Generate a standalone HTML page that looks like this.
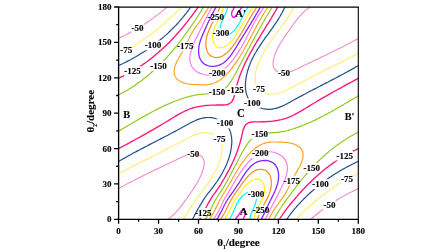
<!DOCTYPE html>
<html><head><meta charset="utf-8"><title>Contour plot</title>
<style>
html,body{margin:0;padding:0;background:#fff;}
body{width:448px;height:252px;overflow:hidden;}
svg{display:block;}
svg text{font-family:"Liberation Serif","Times New Roman",serif;font-weight:bold;fill:#000;stroke:#000;stroke-width:0.12;}
</style></head>
<body>
<svg width="448" height="252" viewBox="0 0 448 252">
<rect width="448" height="252" fill="#fff"/>
<defs><mask id="mk50" maskUnits="userSpaceOnUse" x="0" y="0" width="448" height="252"><rect width="448" height="252" fill="#fff"/><rect x="131.28" y="23.62" width="12.24" height="9.80" fill="#000"/><rect x="277.93" y="68.26" width="12.24" height="9.80" fill="#000"/><rect x="187.03" y="148.74" width="12.24" height="9.80" fill="#000"/><rect x="323.33" y="199.95" width="12.24" height="9.80" fill="#000"/></mask>
<mask id="mk75" maskUnits="userSpaceOnUse" x="0" y="0" width="448" height="252"><rect width="448" height="252" fill="#fff"/><rect x="120.06" y="44.98" width="12.24" height="9.80" fill="#000"/><rect x="252.99" y="84.61" width="12.24" height="9.80" fill="#000"/><rect x="213.32" y="134.09" width="12.24" height="9.80" fill="#000"/><rect x="340.83" y="174.17" width="12.24" height="9.80" fill="#000"/></mask>
<mask id="mk100" maskUnits="userSpaceOnUse" x="0" y="0" width="448" height="252"><rect width="448" height="252" fill="#fff"/><rect x="144.74" y="40.47" width="16.75" height="9.80" fill="#000"/><rect x="243.83" y="98.45" width="16.75" height="9.80" fill="#000"/><rect x="216.62" y="118.55" width="16.75" height="9.80" fill="#000"/><rect x="312.06" y="179.29" width="16.75" height="9.80" fill="#000"/></mask>
<mask id="mk125" maskUnits="userSpaceOnUse" x="0" y="0" width="448" height="252"><rect width="448" height="252" fill="#fff"/><rect x="124.12" y="66.24" width="16.75" height="9.80" fill="#000"/><rect x="227.15" y="85.42" width="16.75" height="9.80" fill="#000"/><rect x="194.86" y="208.11" width="16.75" height="9.80" fill="#000"/><rect x="336.33" y="150.76" width="16.75" height="9.80" fill="#000"/></mask>
<mask id="mk150" maskUnits="userSpaceOnUse" x="0" y="0" width="448" height="252"><rect width="448" height="252" fill="#fff"/><rect x="150.03" y="61.13" width="16.75" height="9.80" fill="#000"/><rect x="208.69" y="87.64" width="16.75" height="9.80" fill="#000"/><rect x="251.44" y="129.45" width="16.75" height="9.80" fill="#000"/><rect x="303.34" y="163.14" width="16.75" height="9.80" fill="#000"/></mask>
<mask id="mk175" maskUnits="userSpaceOnUse" x="0" y="0" width="448" height="252"><rect width="448" height="252" fill="#fff"/><rect x="176.90" y="41.55" width="16.75" height="9.80" fill="#000"/><rect x="283.39" y="175.77" width="16.75" height="9.80" fill="#000"/></mask>
<mask id="mk200" maskUnits="userSpaceOnUse" x="0" y="0" width="448" height="252"><rect width="448" height="252" fill="#fff"/><rect x="208.88" y="68.36" width="16.75" height="9.80" fill="#000"/><rect x="251.83" y="148.53" width="16.75" height="9.80" fill="#000"/></mask>
<mask id="mk250" maskUnits="userSpaceOnUse" x="0" y="0" width="448" height="252"><rect width="448" height="252" fill="#fff"/><rect x="207.27" y="11.86" width="16.75" height="9.80" fill="#000"/><rect x="252.65" y="205.33" width="16.75" height="9.80" fill="#000"/></mask>
<mask id="mk300" maskUnits="userSpaceOnUse" x="0" y="0" width="448" height="252"><rect width="448" height="252" fill="#fff"/><rect x="212.73" y="28.34" width="16.75" height="9.80" fill="#000"/><rect x="247.70" y="189.03" width="16.75" height="9.80" fill="#000"/></mask><filter id="soft" x="-2%" y="-2%" width="104%" height="104%"><feGaussianBlur stdDeviation="0.3"/></filter><clipPath id="cp"><rect x="118.6" y="7.0" width="239.70000000000002" height="212.35"/></clipPath></defs>
<g filter="url(#soft)">
<g clip-path="url(#cp)" fill="none" stroke-linecap="butt" stroke-linejoin="round">
<g stroke="#f285c6" stroke-width="1.05" mask="url(#mk50)"><path d="M118.6,38.3 L120.0,37.6 L121.5,37.0 L122.9,36.3 L124.3,35.6 L125.7,34.9 L127.1,34.2 L128.5,33.5 L129.9,32.7 L131.3,32.0 L132.7,31.2 L134.0,30.5 L135.4,29.7 L136.8,28.9 L138.1,28.1 L139.5,27.3 L140.8,26.5 L142.2,25.6 L143.5,24.8 L144.8,23.9 L146.1,23.0 L147.4,22.2 L148.7,21.3 L150.0,20.4 L151.3,19.5 L152.6,18.6 L153.9,17.6 L155.1,16.7 L156.4,15.7 L157.6,14.8 L158.9,13.8 L160.1,12.8 L161.3,11.8 L162.5,10.8 L163.8,9.8 L164.9,8.8 L166.1,7.8 L167.3,6.7"/><path d="M358.6,188.5 L357.2,189.2 L355.7,189.8 L354.3,190.5 L352.9,191.2 L351.5,191.9 L350.1,192.6 L348.7,193.3 L347.3,194.1 L345.9,194.8 L344.5,195.6 L343.2,196.3 L341.8,197.1 L340.4,197.9 L339.1,198.7 L337.7,199.5 L336.4,200.3 L335.0,201.2 L333.7,202.0 L332.4,202.9 L331.1,203.8 L329.8,204.6 L328.5,205.5 L327.2,206.4 L325.9,207.3 L324.6,208.2 L323.3,209.2 L322.1,210.1 L320.8,211.1 L319.6,212.0 L318.3,213.0 L317.1,214.0 L315.9,215.0 L314.7,216.0 L313.4,217.0 L312.3,218.0 L311.1,219.0 L309.9,220.1"/><path d="M310.3,6.8 L309.0,7.7 L307.7,8.6 L306.5,9.6 L305.3,10.6 L304.2,11.6 L303.1,12.6 L302.0,13.7 L301.0,14.8 L300.0,15.9 L299.0,17.0 L298.0,18.2 L297.1,19.4 L296.1,20.5 L295.2,21.7 L294.3,22.9 L293.4,24.2 L292.5,25.4 L291.7,26.6 L290.8,27.8 L289.9,29.1 L289.1,30.3 L288.2,31.6 L287.3,32.8 L286.5,34.1 L285.6,35.3 L284.7,36.6 L283.9,37.8 L283.1,39.1 L282.2,40.4 L281.4,41.7 L280.6,43.0 L279.8,44.3 L279.1,45.6 L278.3,47.0 L277.6,48.4 L277.0,49.8 L276.3,51.2 L275.7,52.6 L275.1,54.1 L274.6,55.6 L274.1,57.2 L273.7,58.7 L273.3,60.3 L273.1,61.8 L273.0,63.3 L273.0,64.7 L273.2,66.1 L273.6,67.4 L274.2,68.5 L275.0,69.6 L275.9,70.5 L277.0,71.3 L278.2,72.0 L279.5,72.5 L280.8,72.9 L282.2,73.1 L283.7,73.2 L285.1,73.1 L286.6,72.9 L288.1,72.5 L289.5,72.1 L291.0,71.5 L292.5,70.9 L294.0,70.3 L295.4,69.6 L296.9,68.9 L298.3,68.2 L299.8,67.5 L301.2,66.8 L302.6,66.2 L304.0,65.5 L305.5,64.8 L306.9,64.1 L308.3,63.5 L309.6,62.8 L311.0,62.2 L312.4,61.5 L313.8,60.8 L315.1,60.2 L316.5,59.5 L317.9,58.9 L319.2,58.3 L320.6,57.6 L321.9,57.0 L323.3,56.3 L324.6,55.7 L325.9,55.0 L327.3,54.4 L328.6,53.7 L329.9,53.1 L331.3,52.4 L332.6,51.8 L333.9,51.1 L335.3,50.5 L336.6,49.8 L338.0,49.1 L339.3,48.5 L340.6,47.8 L342.0,47.1 L343.3,46.4 L344.7,45.7 L346.0,45.0 L347.4,44.3 L348.7,43.6 L350.1,42.9 L351.5,42.2 L352.8,41.4 L354.2,40.7 L355.6,40.0 L357.0,39.2 L358.4,38.4"/><path d="M166.9,220.0 L168.2,219.1 L169.5,218.2 L170.7,217.2 L171.9,216.2 L173.0,215.2 L174.1,214.2 L175.2,213.1 L176.2,212.0 L177.2,210.9 L178.2,209.8 L179.2,208.6 L180.1,207.4 L181.1,206.3 L182.0,205.1 L182.9,203.9 L183.8,202.6 L184.6,201.4 L185.5,200.2 L186.4,199.0 L187.3,197.7 L188.1,196.5 L189.0,195.2 L189.9,194.0 L190.7,192.7 L191.6,191.5 L192.4,190.2 L193.3,189.0 L194.1,187.7 L195.0,186.4 L195.8,185.1 L196.6,183.8 L197.4,182.5 L198.1,181.2 L198.9,179.8 L199.6,178.4 L200.2,177.0 L200.9,175.6 L201.5,174.2 L202.1,172.7 L202.6,171.2 L203.1,169.6 L203.5,168.1 L203.9,166.5 L204.1,165.0 L204.2,163.5 L204.2,162.1 L204.0,160.7 L203.6,159.4 L203.0,158.3 L202.2,157.2 L201.3,156.3 L200.2,155.5 L199.0,154.8 L197.7,154.3 L196.4,153.9 L195.0,153.7 L193.5,153.6 L192.1,153.7 L190.6,153.9 L189.1,154.3 L187.7,154.7 L186.2,155.3 L184.7,155.9 L183.2,156.5 L181.8,157.2 L180.3,157.9 L178.9,158.6 L177.4,159.3 L176.0,160.0 L174.6,160.6 L173.2,161.3 L171.7,162.0 L170.3,162.7 L168.9,163.3 L167.6,164.0 L166.2,164.6 L164.8,165.3 L163.4,166.0 L162.1,166.6 L160.7,167.3 L159.3,167.9 L158.0,168.5 L156.6,169.2 L155.3,169.8 L153.9,170.5 L152.6,171.1 L151.3,171.8 L149.9,172.4 L148.6,173.1 L147.3,173.7 L145.9,174.4 L144.6,175.0 L143.3,175.7 L141.9,176.3 L140.6,177.0 L139.2,177.7 L137.9,178.3 L136.6,179.0 L135.2,179.7 L133.9,180.4 L132.5,181.1 L131.2,181.8 L129.8,182.5 L128.5,183.2 L127.1,183.9 L125.7,184.6 L124.4,185.4 L123.0,186.1 L121.6,186.8 L120.2,187.6 L118.8,188.4"/></g>
<g stroke="#ffec62" stroke-width="1.05" mask="url(#mk75)"><path d="M118.7,53.4 L120.1,52.8 L121.5,52.2 L122.9,51.5 L124.3,50.8 L125.7,50.1 L127.1,49.4 L128.4,48.7 L129.8,48.0 L131.1,47.2 L132.5,46.5 L133.8,45.7 L135.2,44.9 L136.5,44.1 L137.8,43.3 L139.1,42.5 L140.4,41.6 L141.7,40.8 L143.0,39.9 L144.3,39.1 L145.6,38.2 L146.8,37.3 L148.1,36.4 L149.3,35.5 L150.6,34.5 L151.8,33.6 L153.1,32.7 L154.3,31.7 L155.5,30.7 L156.7,29.8 L157.9,28.8 L159.1,27.8 L160.3,26.8 L161.5,25.8 L162.7,24.8 L163.9,23.8 L165.0,22.8 L166.2,21.7 L167.4,20.7 L168.5,19.7 L169.6,18.6 L170.8,17.5 L171.9,16.5 L173.0,15.4 L174.2,14.4 L175.3,13.3 L176.4,12.2 L177.5,11.1 L178.6,10.0 L179.7,9.0 L180.8,7.9 L181.8,6.8"/><path d="M358.5,173.4 L357.1,174.0 L355.7,174.6 L354.3,175.3 L352.9,176.0 L351.5,176.7 L350.1,177.4 L348.8,178.1 L347.4,178.8 L346.1,179.6 L344.7,180.3 L343.4,181.1 L342.0,181.9 L340.7,182.7 L339.4,183.5 L338.1,184.3 L336.8,185.2 L335.5,186.0 L334.2,186.9 L332.9,187.7 L331.6,188.6 L330.4,189.5 L329.1,190.4 L327.9,191.3 L326.6,192.3 L325.4,193.2 L324.1,194.1 L322.9,195.1 L321.7,196.1 L320.5,197.0 L319.3,198.0 L318.1,199.0 L316.9,200.0 L315.7,201.0 L314.5,202.0 L313.3,203.0 L312.2,204.0 L311.0,205.1 L309.8,206.1 L308.7,207.1 L307.6,208.2 L306.4,209.3 L305.3,210.3 L304.2,211.4 L303.0,212.4 L301.9,213.5 L300.8,214.6 L299.7,215.7 L298.6,216.8 L297.5,217.8 L296.4,218.9 L295.3,220.0"/><path d="M294.0,6.6 L293.3,8.1 L292.5,9.5 L291.7,10.9 L291.0,12.3 L290.2,13.6 L289.3,15.0 L288.5,16.3 L287.7,17.6 L286.9,18.8 L286.0,20.1 L285.2,21.3 L284.3,22.6 L283.4,23.8 L282.6,25.0 L281.7,26.2 L280.8,27.4 L280.0,28.6 L279.1,29.8 L278.2,31.0 L277.3,32.2 L276.5,33.3 L275.6,34.5 L274.7,35.7 L273.9,36.9 L273.0,38.1 L272.1,39.3 L271.3,40.5 L270.4,41.7 L269.6,42.9 L268.8,44.2 L267.9,45.4 L267.1,46.7 L266.3,48.0 L265.5,49.3 L264.7,50.6 L264.0,51.9 L263.2,53.3 L262.5,54.6 L261.7,56.0 L261.0,57.5 L260.3,58.9 L259.6,60.4 L259.0,61.9 L258.3,63.4 L257.7,64.9 L257.2,66.4 L256.7,68.0 L256.3,69.5 L255.9,71.0 L255.6,72.6 L255.3,74.1 L255.2,75.6 L255.1,77.1 L255.1,78.6 L255.2,80.0 L255.3,81.5 L255.6,82.9 L256.0,84.2 L256.5,85.5 L257.1,86.8 L257.9,88.0 L258.7,89.1 L259.7,90.1 L260.7,90.9 L261.9,91.7 L263.1,92.4 L264.5,92.9 L265.9,93.4 L267.3,93.7 L268.8,94.0 L270.3,94.1 L271.8,94.2 L273.3,94.1 L274.9,94.0 L276.4,93.7 L277.8,93.4 L279.3,93.0 L280.8,92.5 L282.2,92.0 L283.6,91.4 L285.1,90.8 L286.5,90.1 L287.9,89.4 L289.3,88.7 L290.6,88.0 L292.0,87.2 L293.4,86.5 L294.8,85.8 L296.1,85.0 L297.5,84.3 L298.9,83.6 L300.2,82.9 L301.6,82.2 L303.0,81.4 L304.3,80.7 L305.7,80.0 L307.0,79.4 L308.4,78.7 L309.7,78.0 L311.1,77.3 L312.4,76.6 L313.7,75.9 L315.1,75.2 L316.4,74.6 L317.8,73.9 L319.1,73.2 L320.4,72.5 L321.8,71.9 L323.1,71.2 L324.5,70.5 L325.8,69.8 L327.1,69.2 L328.5,68.5 L329.8,67.8 L331.2,67.2 L332.5,66.5 L333.9,65.8 L335.2,65.2 L336.5,64.5 L337.9,63.8 L339.2,63.1 L340.6,62.4 L341.9,61.8 L343.3,61.1 L344.7,60.4 L346.0,59.7 L347.4,59.0 L348.7,58.3 L350.1,57.6 L351.5,56.9 L352.8,56.2 L354.2,55.5 L355.6,54.8 L357.0,54.1 L358.4,53.4"/><path d="M183.2,220.2 L183.9,218.7 L184.7,217.3 L185.5,215.9 L186.2,214.5 L187.0,213.2 L187.9,211.8 L188.7,210.5 L189.5,209.2 L190.3,208.0 L191.2,206.7 L192.0,205.5 L192.9,204.2 L193.7,203.0 L194.6,201.8 L195.4,200.6 L196.3,199.4 L197.1,198.2 L198.0,197.0 L198.8,195.8 L199.7,194.6 L200.5,193.5 L201.4,192.3 L202.3,191.1 L203.1,189.9 L204.0,188.7 L204.9,187.5 L205.8,186.3 L206.7,185.1 L207.5,183.9 L208.4,182.6 L209.2,181.4 L210.1,180.1 L210.9,178.8 L211.7,177.5 L212.5,176.2 L213.2,174.9 L214.0,173.5 L214.7,172.2 L215.5,170.8 L216.2,169.3 L216.9,167.9 L217.6,166.4 L218.2,164.9 L218.9,163.4 L219.5,161.9 L220.0,160.4 L220.5,158.8 L220.9,157.3 L221.3,155.8 L221.6,154.2 L221.9,152.7 L222.0,151.2 L222.1,149.7 L222.1,148.2 L222.0,146.8 L221.9,145.3 L221.6,143.9 L221.2,142.6 L220.7,141.3 L220.1,140.0 L219.3,138.8 L218.5,137.7 L217.5,136.7 L216.5,135.9 L215.3,135.1 L214.1,134.4 L212.7,133.9 L211.3,133.4 L209.9,133.1 L208.4,132.8 L206.9,132.7 L205.4,132.6 L203.9,132.7 L202.3,132.8 L200.8,133.1 L199.4,133.4 L197.9,133.8 L196.4,134.3 L195.0,134.8 L193.6,135.4 L192.1,136.0 L190.7,136.7 L189.3,137.4 L187.9,138.1 L186.6,138.8 L185.2,139.6 L183.8,140.3 L182.4,141.0 L181.1,141.8 L179.7,142.5 L178.3,143.2 L177.0,143.9 L175.6,144.6 L174.2,145.4 L172.9,146.1 L171.5,146.8 L170.2,147.4 L168.8,148.1 L167.5,148.8 L166.1,149.5 L164.8,150.2 L163.5,150.9 L162.1,151.6 L160.8,152.2 L159.4,152.9 L158.1,153.6 L156.8,154.3 L155.4,154.9 L154.1,155.6 L152.7,156.3 L151.4,157.0 L150.1,157.6 L148.7,158.3 L147.4,159.0 L146.0,159.6 L144.7,160.3 L143.3,161.0 L142.0,161.6 L140.7,162.3 L139.3,163.0 L138.0,163.7 L136.6,164.4 L135.3,165.0 L133.9,165.7 L132.5,166.4 L131.2,167.1 L129.8,167.8 L128.5,168.5 L127.1,169.2 L125.7,169.9 L124.4,170.6 L123.0,171.3 L121.6,172.0 L120.2,172.7 L118.8,173.4"/></g>
<g stroke="#1f4e8c" stroke-width="1.2" mask="url(#mk100)"><path d="M118.5,65.6 L119.9,65.0 L121.3,64.3 L122.7,63.7 L124.0,63.0 L125.4,62.3 L126.8,61.6 L128.1,60.9 L129.5,60.2 L130.8,59.5 L132.2,58.7 L133.5,58.0 L134.9,57.2 L136.2,56.5 L137.5,55.7 L138.8,54.9 L140.1,54.1 L141.4,53.3 L142.7,52.5 L144.0,51.7 L145.3,50.9 L146.5,50.0 L147.8,49.2 L149.1,48.3 L150.3,47.4 L151.5,46.5 L152.8,45.6 L154.0,44.7 L155.2,43.8 L156.4,42.9 L157.6,41.9 L158.8,41.0 L160.0,40.0 L161.2,39.1 L162.3,38.1 L163.5,37.1 L164.6,36.1 L165.8,35.1 L166.9,34.1 L168.0,33.1 L169.1,32.0 L170.2,31.0 L171.3,29.9 L172.4,28.8 L173.5,27.8 L174.5,26.7 L175.6,25.6 L176.6,24.5 L177.7,23.3 L178.7,22.2 L179.7,21.1 L180.7,19.9 L181.7,18.7 L182.7,17.6 L183.7,16.4 L184.6,15.2 L185.6,14.0 L186.5,12.8 L187.4,11.5 L188.4,10.3 L189.3,9.0 L190.2,7.8 L191.1,6.5"/><path d="M358.7,161.2 L357.3,161.8 L355.9,162.5 L354.5,163.1 L353.2,163.8 L351.8,164.5 L350.4,165.2 L349.1,165.9 L347.7,166.6 L346.4,167.3 L345.0,168.1 L343.7,168.8 L342.3,169.6 L341.0,170.3 L339.7,171.1 L338.4,171.9 L337.1,172.7 L335.8,173.5 L334.5,174.3 L333.2,175.1 L331.9,175.9 L330.7,176.8 L329.4,177.6 L328.1,178.5 L326.9,179.4 L325.7,180.3 L324.4,181.2 L323.2,182.1 L322.0,183.0 L320.8,183.9 L319.6,184.9 L318.4,185.8 L317.2,186.8 L316.0,187.7 L314.9,188.7 L313.7,189.7 L312.6,190.7 L311.4,191.7 L310.3,192.7 L309.2,193.7 L308.1,194.8 L307.0,195.8 L305.9,196.9 L304.8,198.0 L303.7,199.0 L302.7,200.1 L301.6,201.2 L300.5,202.3 L299.5,203.5 L298.5,204.6 L297.4,205.7 L296.4,206.9 L295.4,208.1 L294.4,209.2 L293.4,210.4 L292.4,211.6 L291.4,212.8 L290.5,214.0 L289.6,215.3 L288.7,216.5 L287.8,217.8 L286.9,219.0 L286.1,220.3"/><path d="M285.0,6.6 L284.4,8.0 L283.7,9.4 L283.0,10.8 L282.3,12.2 L281.6,13.5 L280.8,14.9 L280.1,16.2 L279.3,17.5 L278.5,18.8 L277.7,20.1 L276.9,21.4 L276.1,22.6 L275.2,23.9 L274.4,25.2 L273.5,26.4 L272.7,27.6 L271.8,28.9 L270.9,30.1 L270.0,31.3 L269.1,32.6 L268.3,33.8 L267.4,35.0 L266.5,36.2 L265.6,37.4 L264.7,38.7 L263.9,39.9 L263.0,41.1 L262.1,42.4 L261.3,43.6 L260.5,44.8 L259.6,46.1 L258.8,47.4 L258.0,48.6 L257.2,49.9 L256.4,51.2 L255.7,52.5 L254.9,53.8 L254.2,55.1 L253.5,56.5 L252.8,57.8 L252.1,59.2 L251.5,60.6 L250.8,62.0 L250.2,63.4 L249.7,64.9 L249.1,66.3 L248.6,67.8 L248.1,69.3 L247.7,70.8 L247.2,72.4 L246.9,73.9 L246.5,75.5 L246.2,77.0 L246.0,78.6 L245.8,80.1 L245.6,81.7 L245.5,83.2 L245.4,84.8 L245.4,86.3 L245.5,87.8 L245.6,89.3 L245.8,90.7 L246.1,92.1 L246.4,93.5 L246.8,94.9 L247.3,96.2 L247.8,97.4 L248.4,98.7 L249.2,99.8 L250.0,100.9 L250.8,102.0 L251.8,103.0 L252.9,103.9 L254.0,104.8 L255.3,105.6 L256.6,106.3 L258.0,107.0 L259.4,107.6 L260.9,108.0 L262.4,108.5 L263.9,108.8 L265.5,109.1 L267.0,109.2 L268.6,109.3 L270.1,109.3 L271.6,109.1 L273.2,108.9 L274.6,108.7 L276.1,108.3 L277.6,107.9 L279.0,107.4 L280.4,106.9 L281.8,106.3 L283.2,105.6 L284.6,105.0 L286.0,104.3 L287.4,103.6 L288.8,102.8 L290.1,102.1 L291.5,101.3 L292.8,100.5 L294.2,99.8 L295.6,99.0 L296.9,98.3 L298.3,97.6 L299.6,96.8 L301.0,96.1 L302.3,95.4 L303.6,94.7 L305.0,94.0 L306.3,93.3 L307.7,92.5 L309.0,91.8 L310.3,91.1 L311.7,90.5 L313.0,89.8 L314.3,89.1 L315.7,88.4 L317.0,87.7 L318.3,87.0 L319.7,86.3 L321.0,85.6 L322.3,84.9 L323.7,84.3 L325.0,83.6 L326.3,82.9 L327.7,82.2 L329.0,81.5 L330.3,80.8 L331.7,80.1 L333.0,79.4 L334.3,78.7 L335.7,78.0 L337.0,77.3 L338.3,76.6 L339.7,75.9 L341.0,75.2 L342.3,74.5 L343.7,73.8 L345.0,73.1 L346.3,72.3 L347.7,71.6 L349.0,70.9 L350.4,70.1 L351.7,69.4 L353.0,68.6 L354.4,67.9 L355.7,67.1 L357.1,66.3 L358.4,65.5"/><path d="M192.2,220.2 L192.8,218.8 L193.5,217.4 L194.2,216.0 L194.9,214.6 L195.6,213.3 L196.3,211.9 L197.1,210.6 L197.8,209.3 L198.6,208.0 L199.4,206.7 L200.1,205.4 L200.9,204.2 L201.6,202.9 L202.4,201.6 L203.1,200.4 L203.9,199.2 L204.7,197.9 L205.6,196.7 L206.4,195.5 L207.4,194.2 L208.3,193.0 L209.3,191.8 L210.3,190.6 L211.2,189.4 L212.2,188.1 L213.1,186.9 L214.0,185.7 L214.9,184.4 L215.8,183.2 L216.7,182.0 L217.5,180.7 L218.4,179.4 L219.2,178.2 L220.0,176.9 L220.8,175.6 L221.5,174.3 L222.3,173.0 L223.0,171.7 L223.7,170.3 L224.4,169.0 L225.1,167.6 L225.7,166.2 L226.4,164.8 L227.0,163.4 L227.5,161.9 L228.1,160.5 L228.6,159.0 L229.1,157.5 L229.5,156.0 L230.0,154.4 L230.3,152.9 L230.7,151.3 L231.0,149.8 L231.2,148.2 L231.4,146.7 L231.6,145.1 L231.7,143.6 L231.8,142.0 L231.8,140.5 L231.7,139.0 L231.6,137.5 L231.4,136.1 L231.1,134.7 L230.8,133.3 L230.4,131.9 L229.9,130.6 L229.4,129.4 L228.8,128.1 L228.0,127.0 L227.2,125.9 L226.4,124.8 L225.4,123.8 L224.3,122.9 L223.2,122.0 L221.9,121.2 L220.6,120.5 L219.2,119.8 L217.8,119.2 L216.3,118.8 L214.8,118.3 L213.3,118.0 L211.7,117.7 L210.2,117.6 L208.6,117.5 L207.1,117.5 L205.6,117.7 L204.0,117.9 L202.6,118.1 L201.1,118.5 L199.6,118.9 L198.2,119.4 L196.8,119.9 L195.4,120.5 L194.0,121.2 L192.6,121.8 L191.2,122.5 L189.8,123.2 L188.4,124.0 L187.1,124.7 L185.7,125.5 L184.4,126.3 L183.0,127.0 L181.6,127.8 L180.3,128.5 L178.9,129.2 L177.6,130.0 L176.2,130.7 L174.9,131.4 L173.6,132.1 L172.2,132.8 L170.9,133.5 L169.5,134.3 L168.2,135.0 L166.9,135.7 L165.5,136.3 L164.2,137.0 L162.9,137.7 L161.5,138.4 L160.2,139.1 L158.9,139.8 L157.5,140.5 L156.2,141.2 L154.9,141.9 L153.5,142.5 L152.2,143.2 L150.9,143.9 L149.5,144.6 L148.2,145.3 L146.9,146.0 L145.5,146.7 L144.2,147.4 L142.9,148.1 L141.5,148.8 L140.2,149.5 L138.9,150.2 L137.5,150.9 L136.2,151.6 L134.9,152.3 L133.5,153.0 L132.2,153.7 L130.9,154.5 L129.5,155.2 L128.2,155.9 L126.8,156.7 L125.5,157.4 L124.2,158.2 L122.8,158.9 L121.5,159.7 L120.1,160.5 L118.8,161.3"/></g>
<g stroke="#ff1478" stroke-width="1.35" mask="url(#mk125)"><path d="M118.5,78.2 L119.9,77.6 L121.3,76.9 L122.7,76.3 L124.1,75.6 L125.5,74.9 L126.9,74.2 L128.2,73.5 L129.6,72.8 L130.9,72.0 L132.2,71.3 L133.6,70.5 L134.9,69.7 L136.2,68.9 L137.5,68.1 L138.8,67.3 L140.0,66.5 L141.3,65.6 L142.6,64.8 L143.8,63.9 L145.1,63.0 L146.3,62.2 L147.6,61.3 L148.8,60.3 L150.0,59.4 L151.2,58.5 L152.4,57.5 L153.6,56.6 L154.8,55.6 L155.9,54.6 L157.1,53.6 L158.3,52.6 L159.4,51.6 L160.5,50.6 L161.7,49.6 L162.8,48.6 L163.9,47.5 L165.0,46.5 L166.1,45.4 L167.2,44.3 L168.3,43.2 L169.4,42.2 L170.5,41.1 L171.5,40.0 L172.6,38.8 L173.6,37.7 L174.7,36.6 L175.7,35.5 L176.7,34.3 L177.7,33.2 L178.8,32.0 L179.8,30.9 L180.8,29.7 L181.8,28.5 L182.7,27.3 L183.7,26.2 L184.7,25.0 L185.6,23.8 L186.6,22.6 L187.5,21.4 L188.5,20.1 L189.4,18.9 L190.3,17.7 L191.3,16.5 L192.2,15.3 L193.1,14.0 L194.0,12.8 L194.9,11.5 L195.8,10.3 L196.7,9.1 L197.5,7.8 L198.4,6.5"/><path d="M358.7,148.6 L357.3,149.2 L355.9,149.9 L354.5,150.5 L353.1,151.2 L351.7,151.9 L350.3,152.6 L349.0,153.3 L347.6,154.0 L346.3,154.8 L345.0,155.5 L343.6,156.3 L342.3,157.1 L341.0,157.9 L339.7,158.7 L338.4,159.5 L337.2,160.3 L335.9,161.2 L334.6,162.0 L333.4,162.9 L332.1,163.8 L330.9,164.6 L329.6,165.5 L328.4,166.5 L327.2,167.4 L326.0,168.3 L324.8,169.3 L323.6,170.2 L322.4,171.2 L321.3,172.2 L320.1,173.2 L318.9,174.2 L317.8,175.2 L316.7,176.2 L315.5,177.2 L314.4,178.2 L313.3,179.3 L312.2,180.3 L311.1,181.4 L310.0,182.5 L308.9,183.6 L307.8,184.6 L306.7,185.7 L305.7,186.8 L304.6,188.0 L303.6,189.1 L302.5,190.2 L301.5,191.3 L300.5,192.5 L299.4,193.6 L298.4,194.8 L297.4,195.9 L296.4,197.1 L295.4,198.3 L294.4,199.5 L293.4,200.6 L292.3,201.8 L291.3,203.0 L290.3,204.2 L289.3,205.4 L288.3,206.7 L287.4,207.9 L286.4,209.1 L285.5,210.3 L284.6,211.5 L283.8,212.8 L282.9,214.0 L282.1,215.3 L281.2,216.5 L280.4,217.7 L279.6,219.0 L278.7,220.3"/><path d="M118.6,148.6 L119.9,147.9 L121.3,147.2 L122.6,146.5 L124.0,145.7 L125.3,145.0 L126.7,144.3 L128.0,143.6 L129.3,142.9 L130.7,142.1 L132.0,141.4 L133.3,140.7 L134.6,140.0 L135.9,139.2 L137.3,138.5 L138.6,137.8 L139.9,137.1 L141.2,136.3 L142.5,135.6 L143.8,134.9 L145.1,134.1 L146.4,133.4 L147.7,132.6 L149.0,131.9 L150.3,131.2 L151.7,130.4 L153.0,129.7 L154.3,128.9 L155.6,128.2 L156.9,127.4 L158.2,126.6 L159.5,125.9 L160.8,125.1 L162.1,124.3 L163.4,123.5 L164.7,122.8 L166.0,122.0 L167.3,121.2 L168.6,120.4 L169.9,119.6 L171.2,118.8 L172.5,118.0 L173.8,117.2 L175.1,116.4 L176.4,115.6 L177.8,114.9 L179.1,114.1 L180.4,113.4 L181.8,112.7 L183.1,112.0 L184.5,111.3 L185.8,110.7 L187.2,110.1 L188.6,109.5 L190.0,108.9 L191.4,108.4 L192.8,108.0 L194.2,107.6 L195.7,107.2 L197.1,106.9 L198.6,106.6 L200.0,106.3 L201.5,106.1 L203.0,105.9 L204.5,105.7 L206.0,105.5 L207.5,105.4 L209.0,105.3 L210.5,105.2 L212.0,105.1 L213.6,105.1 L215.1,105.1 L216.6,105.0 L218.2,105.0 L219.7,105.0 L221.3,105.0 L222.8,105.0 L224.4,104.9 L225.9,104.8 L227.3,104.5 L228.7,104.0 L229.9,103.3 L231.0,102.5 L232.0,101.4 L232.7,100.2 L233.3,98.9 L233.8,97.5 L234.3,96.0 L234.6,94.4 L235.0,92.9 L235.3,91.4 L235.6,89.8 L236.0,88.3 L236.4,86.8 L236.8,85.3 L237.2,83.9 L237.6,82.4 L238.1,81.0 L238.5,79.6 L239.0,78.1 L239.5,76.7 L240.0,75.3 L240.5,73.9 L241.1,72.5 L241.6,71.1 L242.2,69.8 L242.8,68.4 L243.4,67.0 L244.0,65.6 L244.6,64.3 L245.2,62.9 L245.9,61.6 L246.6,60.2 L247.2,58.9 L247.9,57.5 L248.6,56.2 L249.3,54.9 L250.0,53.6 L250.7,52.2 L251.5,50.9 L252.2,49.6 L253.0,48.3 L253.7,47.0 L254.5,45.7 L255.2,44.4 L256.0,43.0 L256.8,41.7 L257.6,40.4 L258.4,39.1 L259.2,37.9 L259.9,36.6 L260.7,35.3 L261.5,34.0 L262.3,32.7 L263.1,31.4 L263.9,30.1 L264.7,28.8 L265.5,27.5 L266.3,26.2 L267.1,24.9 L267.9,23.7 L268.7,22.4 L269.5,21.1 L270.3,19.8 L271.1,18.5 L271.8,17.2 L272.6,15.9 L273.4,14.6 L274.1,13.3 L274.9,12.0 L275.6,10.7 L276.4,9.4 L277.1,8.1 L277.8,6.8"/><path d="M358.6,78.2 L357.3,78.9 L355.9,79.6 L354.6,80.3 L353.2,81.1 L351.9,81.8 L350.5,82.5 L349.2,83.2 L347.9,83.9 L346.5,84.7 L345.2,85.4 L343.9,86.1 L342.6,86.8 L341.3,87.6 L339.9,88.3 L338.6,89.0 L337.3,89.7 L336.0,90.5 L334.7,91.2 L333.4,91.9 L332.1,92.7 L330.8,93.4 L329.5,94.2 L328.2,94.9 L326.9,95.6 L325.5,96.4 L324.2,97.1 L322.9,97.9 L321.6,98.6 L320.3,99.4 L319.0,100.2 L317.7,100.9 L316.4,101.7 L315.1,102.5 L313.8,103.3 L312.5,104.0 L311.2,104.8 L309.9,105.6 L308.6,106.4 L307.3,107.2 L306.0,108.0 L304.7,108.8 L303.4,109.6 L302.1,110.4 L300.8,111.2 L299.4,111.9 L298.1,112.7 L296.8,113.4 L295.4,114.1 L294.1,114.8 L292.7,115.5 L291.4,116.1 L290.0,116.7 L288.6,117.3 L287.2,117.9 L285.8,118.4 L284.4,118.8 L283.0,119.2 L281.5,119.6 L280.1,119.9 L278.6,120.2 L277.2,120.5 L275.7,120.7 L274.2,120.9 L272.7,121.1 L271.2,121.3 L269.7,121.4 L268.2,121.5 L266.7,121.6 L265.2,121.7 L263.6,121.7 L262.1,121.7 L260.6,121.8 L259.0,121.8 L257.5,121.8 L255.9,121.8 L254.4,121.8 L252.8,121.9 L251.3,122.0 L249.9,122.3 L248.5,122.8 L247.3,123.5 L246.2,124.3 L245.2,125.4 L244.5,126.6 L243.9,127.9 L243.4,129.3 L242.9,130.8 L242.6,132.4 L242.2,133.9 L241.9,135.4 L241.6,137.0 L241.2,138.5 L240.8,140.0 L240.4,141.5 L240.0,142.9 L239.6,144.4 L239.1,145.8 L238.7,147.2 L238.2,148.7 L237.7,150.1 L237.2,151.5 L236.7,152.9 L236.1,154.3 L235.6,155.7 L235.0,157.0 L234.4,158.4 L233.8,159.8 L233.2,161.2 L232.6,162.5 L232.0,163.9 L231.3,165.2 L230.6,166.6 L230.0,167.9 L229.3,169.3 L228.6,170.6 L227.9,171.9 L227.2,173.2 L226.4,174.6 L225.7,175.9 L225.0,177.2 L224.2,178.5 L223.5,179.8 L222.7,181.1 L221.9,182.4 L221.1,183.8 L220.3,185.1 L219.4,186.4 L218.6,187.7 L217.7,188.9 L216.8,190.2 L215.9,191.5 L215.0,192.8 L214.0,194.1 L213.1,195.4 L212.2,196.7 L211.4,198.0 L210.6,199.3 L209.8,200.6 L209.1,201.9 L208.4,203.1 L207.7,204.4 L207.0,205.7 L206.4,207.0 L205.7,208.3 L205.1,209.6 L204.4,210.9 L203.7,212.2 L203.0,213.5 L202.3,214.8 L201.5,216.1 L200.8,217.4 L200.1,218.7 L199.4,220.0"/></g>
<g stroke="#90cb1e" stroke-width="1.2" mask="url(#mk150)"><path d="M118.3,95.0 L119.7,94.3 L121.0,93.6 L122.4,92.8 L123.8,92.1 L125.1,91.3 L126.5,90.6 L127.8,89.8 L129.1,89.0 L130.4,88.2 L131.7,87.4 L133.0,86.6 L134.3,85.7 L135.5,84.9 L136.8,84.0 L138.0,83.1 L139.3,82.2 L140.5,81.4 L141.7,80.4 L142.9,79.5 L144.1,78.6 L145.3,77.7 L146.5,76.7 L147.7,75.7 L148.8,74.8 L150.0,73.8 L151.1,72.8 L152.2,71.8 L153.4,70.8 L154.5,69.8 L155.6,68.7 L156.7,67.7 L157.8,66.6 L158.9,65.6 L159.9,64.5 L161.0,63.4 L162.1,62.4 L163.1,61.3 L164.2,60.2 L165.2,59.1 L166.2,58.0 L167.2,56.8 L168.2,55.7 L169.3,54.6 L170.3,53.4 L171.2,52.3 L172.2,51.1 L173.2,50.0 L174.2,48.8 L175.1,47.6 L176.1,46.5 L177.1,45.3 L178.0,44.1 L178.9,42.9 L179.9,41.7 L180.8,40.5 L181.7,39.3 L182.6,38.0 L183.5,36.8 L184.4,35.6 L185.3,34.4 L186.2,33.1 L187.1,31.9 L188.0,30.7 L188.9,29.4 L189.8,28.2 L190.6,26.9 L191.5,25.7 L192.3,24.4 L193.2,23.1 L194.0,21.9 L194.9,20.6 L195.7,19.3 L196.6,18.1 L197.4,16.8 L198.2,15.5 L199.0,14.2 L199.9,12.9 L200.7,11.7 L201.5,10.4 L202.3,9.1 L203.1,7.8 L203.9,6.5"/><path d="M358.9,131.8 L357.5,132.5 L356.2,133.2 L354.8,134.0 L353.4,134.7 L352.1,135.5 L350.7,136.2 L349.4,137.0 L348.1,137.8 L346.8,138.6 L345.5,139.4 L344.2,140.2 L342.9,141.1 L341.7,141.9 L340.4,142.8 L339.2,143.7 L337.9,144.6 L336.7,145.4 L335.5,146.4 L334.3,147.3 L333.1,148.2 L331.9,149.1 L330.7,150.1 L329.5,151.1 L328.4,152.0 L327.2,153.0 L326.1,154.0 L325.0,155.0 L323.8,156.0 L322.7,157.0 L321.6,158.1 L320.5,159.1 L319.4,160.2 L318.3,161.2 L317.3,162.3 L316.2,163.4 L315.1,164.4 L314.1,165.5 L313.0,166.6 L312.0,167.7 L311.0,168.8 L310.0,170.0 L309.0,171.1 L307.9,172.2 L306.9,173.4 L306.0,174.5 L305.0,175.7 L304.0,176.8 L303.0,178.0 L302.1,179.2 L301.1,180.3 L300.1,181.5 L299.2,182.7 L298.3,183.9 L297.3,185.1 L296.4,186.3 L295.5,187.5 L294.6,188.8 L293.6,190.0 L292.7,191.2 L291.8,192.4 L290.9,193.7 L290.0,194.9 L289.1,196.1 L288.2,197.4 L287.2,198.6 L286.3,199.9 L285.4,201.1 L284.5,202.4 L283.6,203.7 L282.7,204.9 L281.8,206.2 L281.0,207.5 L280.2,208.7 L279.4,210.0 L278.6,211.3 L277.8,212.6 L277.0,213.9 L276.3,215.1 L275.5,216.4 L274.8,217.7 L274.0,219.0 L273.2,220.3"/><path d="M118.6,131.1 L119.9,130.4 L121.2,129.6 L122.5,128.8 L123.8,128.1 L125.1,127.3 L126.4,126.5 L127.7,125.8 L129.0,125.0 L130.3,124.2 L131.6,123.5 L132.9,122.7 L134.2,121.9 L135.5,121.2 L136.8,120.4 L138.1,119.6 L139.5,118.9 L140.8,118.1 L142.1,117.4 L143.4,116.6 L144.8,115.9 L146.1,115.1 L147.4,114.4 L148.8,113.7 L150.1,112.9 L151.4,112.2 L152.8,111.5 L154.1,110.8 L155.5,110.1 L156.8,109.4 L158.2,108.7 L159.6,108.1 L160.9,107.4 L162.3,106.7 L163.7,106.1 L165.1,105.4 L166.4,104.8 L167.8,104.2 L169.2,103.6 L170.6,103.0 L172.0,102.4 L173.4,101.8 L174.8,101.3 L176.2,100.7 L177.6,100.2 L179.0,99.7 L180.4,99.2 L181.9,98.7 L183.3,98.2 L184.7,97.8 L186.2,97.3 L187.6,96.9 L189.1,96.5 L190.5,96.2 L192.0,95.8 L193.5,95.5 L195.0,95.2 L196.5,95.0 L198.0,94.7 L199.5,94.5 L201.1,94.4 L202.6,94.2 L204.2,94.1 L205.7,94.0 L207.3,93.9 L208.8,93.8 L210.4,93.7 L211.9,93.5 L213.4,93.3 L214.9,93.0 L216.3,92.7 L217.7,92.4 L219.1,91.9 L220.4,91.4 L221.7,90.7 L222.9,90.0 L224.0,89.1 L225.2,88.2 L226.2,87.2 L227.3,86.1 L228.3,84.9 L229.2,83.7 L230.1,82.5 L231.0,81.2 L231.8,79.9 L232.7,78.5 L233.5,77.2 L234.2,75.8 L235.0,74.5 L235.7,73.2 L236.4,71.8 L237.1,70.5 L237.8,69.1 L238.5,67.8 L239.2,66.4 L239.9,65.1 L240.6,63.8 L241.3,62.4 L242.0,61.1 L242.7,59.7 L243.4,58.4 L244.1,57.1 L244.8,55.7 L245.5,54.4 L246.2,53.1 L246.9,51.7 L247.6,50.4 L248.3,49.0 L249.1,47.7 L249.8,46.4 L250.5,45.0 L251.2,43.7 L251.9,42.4 L252.7,41.1 L253.4,39.7 L254.1,38.4 L254.8,37.1 L255.6,35.7 L256.3,34.4 L257.1,33.1 L257.8,31.8 L258.5,30.5 L259.3,29.1 L260.0,27.8 L260.8,26.5 L261.5,25.2 L262.3,23.9 L263.0,22.5 L263.8,21.2 L264.5,19.9 L265.3,18.6 L266.1,17.3 L266.8,16.0 L267.6,14.7 L268.4,13.4 L269.2,12.0 L269.9,10.7 L270.7,9.4 L271.5,8.1 L272.3,6.8"/><path d="M358.6,95.7 L357.3,96.4 L356.0,97.2 L354.7,98.0 L353.4,98.7 L352.1,99.5 L350.8,100.3 L349.5,101.0 L348.2,101.8 L346.9,102.6 L345.6,103.3 L344.3,104.1 L343.0,104.9 L341.7,105.6 L340.4,106.4 L339.1,107.2 L337.7,107.9 L336.4,108.7 L335.1,109.4 L333.8,110.2 L332.4,110.9 L331.1,111.7 L329.8,112.4 L328.4,113.1 L327.1,113.9 L325.8,114.6 L324.4,115.3 L323.1,116.0 L321.7,116.7 L320.4,117.4 L319.0,118.1 L317.6,118.7 L316.3,119.4 L314.9,120.1 L313.5,120.7 L312.1,121.4 L310.8,122.0 L309.4,122.6 L308.0,123.2 L306.6,123.8 L305.2,124.4 L303.8,125.0 L302.4,125.5 L301.0,126.1 L299.6,126.6 L298.2,127.1 L296.8,127.6 L295.3,128.1 L293.9,128.6 L292.5,129.0 L291.0,129.5 L289.6,129.9 L288.1,130.3 L286.7,130.6 L285.2,131.0 L283.7,131.3 L282.2,131.6 L280.7,131.8 L279.2,132.1 L277.7,132.3 L276.1,132.4 L274.6,132.6 L273.0,132.7 L271.5,132.8 L269.9,132.9 L268.4,133.0 L266.8,133.1 L265.3,133.3 L263.8,133.5 L262.3,133.8 L260.9,134.1 L259.5,134.4 L258.1,134.9 L256.8,135.4 L255.5,136.1 L254.3,136.8 L253.2,137.7 L252.0,138.6 L251.0,139.6 L249.9,140.7 L248.9,141.9 L248.0,143.1 L247.1,144.3 L246.2,145.6 L245.4,146.9 L244.5,148.3 L243.7,149.6 L243.0,151.0 L242.2,152.3 L241.5,153.6 L240.8,155.0 L240.1,156.3 L239.4,157.7 L238.7,159.0 L238.0,160.4 L237.3,161.7 L236.6,163.0 L235.9,164.4 L235.2,165.7 L234.5,167.1 L233.8,168.4 L233.1,169.7 L232.4,171.1 L231.7,172.4 L231.0,173.7 L230.3,175.1 L229.6,176.4 L228.9,177.8 L228.1,179.1 L227.4,180.4 L226.7,181.8 L225.9,183.1 L225.2,184.4 L224.4,185.7 L223.6,187.1 L222.8,188.4 L221.9,189.7 L221.1,191.1 L220.2,192.4 L219.3,193.7 L218.5,195.0 L217.6,196.3 L216.8,197.7 L216.0,199.0 L215.2,200.3 L214.5,201.6 L213.8,202.9 L213.2,204.3 L212.6,205.6 L211.9,206.9 L211.3,208.2 L210.7,209.5 L210.0,210.8 L209.4,212.1 L208.7,213.4 L207.9,214.8 L207.2,216.1 L206.5,217.4 L205.7,218.7 L204.9,220.0"/></g>
<g stroke="#ffa424" stroke-width="1.2" mask="url(#mk175)"><path d="M208.8,6.6 L208.1,7.9 L207.4,9.3 L206.7,10.6 L205.9,11.9 L205.1,13.2 L204.3,14.4 L203.5,15.7 L202.6,17.0 L201.8,18.3 L200.9,19.5 L200.0,20.8 L199.2,22.0 L198.3,23.3 L197.4,24.6 L196.6,25.8 L195.7,27.1 L194.9,28.3 L194.0,29.6 L193.2,30.9 L192.4,32.2 L191.7,33.4 L190.9,34.7 L190.2,36.0 L189.5,37.3 L188.9,38.7 L188.3,40.0 L187.6,41.3 L187.0,42.7 L186.4,44.0 L185.8,45.4 L185.1,46.7 L184.5,48.1 L183.8,49.4 L183.0,50.8 L182.2,52.2 L181.4,53.5 L180.6,54.9 L179.8,56.3 L179.0,57.7 L178.2,59.1 L177.4,60.5 L176.7,61.9 L176.1,63.3 L175.5,64.7 L175.0,66.2 L174.6,67.7 L174.3,69.1 L174.2,70.6 L174.1,72.0 L174.2,73.3 L174.5,74.6 L174.9,75.9 L175.4,77.0 L176.2,78.1 L177.0,79.1 L178.1,80.0 L179.2,80.8 L180.4,81.5 L181.7,82.1 L183.1,82.7 L184.5,83.1 L186.0,83.5 L187.6,83.8 L189.1,84.1 L190.7,84.3 L192.4,84.4 L194.0,84.5 L195.7,84.6 L197.3,84.7 L199.0,84.7 L200.6,84.8 L202.2,84.8 L203.8,84.8 L205.4,84.8 L206.9,84.7 L208.5,84.5 L209.9,84.3 L211.4,83.9 L212.8,83.5 L214.1,83.0 L215.5,82.5 L216.8,81.9 L218.0,81.2 L219.3,80.4 L220.5,79.6 L221.6,78.8 L222.8,77.9 L223.9,76.9 L225.0,75.9 L226.1,74.9 L227.1,73.8 L228.1,72.7 L229.1,71.6 L230.1,70.4 L231.0,69.3 L232.0,68.1 L232.9,66.8 L233.8,65.6 L234.7,64.4 L235.6,63.1 L236.4,61.9 L237.3,60.6 L238.1,59.3 L238.9,58.0 L239.7,56.8 L240.5,55.5 L241.3,54.2 L242.1,52.8 L242.9,51.5 L243.6,50.2 L244.4,48.9 L245.1,47.6 L245.8,46.2 L246.6,44.9 L247.3,43.6 L248.0,42.2 L248.7,40.9 L249.4,39.5 L250.2,38.2 L250.9,36.9 L251.6,35.5 L252.3,34.2 L253.0,32.8 L253.7,31.5 L254.4,30.1 L255.1,28.8 L255.8,27.5 L256.6,26.1 L257.3,24.8 L258.0,23.5 L258.8,22.1 L259.5,20.8 L260.2,19.5 L261.0,18.2 L261.8,16.9 L262.5,15.6 L263.3,14.3 L264.1,13.0 L264.9,11.7 L265.7,10.5 L266.6,9.2 L267.4,8.0 L268.3,6.7"/><path d="M268.3,220.2 L268.9,218.9 L269.6,217.5 L270.3,216.2 L271.0,214.9 L271.8,213.6 L272.5,212.4 L273.3,211.1 L274.1,209.8 L274.9,208.5 L275.8,207.3 L276.7,206.0 L277.6,204.8 L278.5,203.5 L279.4,202.2 L280.3,201.0 L281.2,199.7 L282.1,198.5 L283.0,197.2 L283.8,195.9 L284.7,194.6 L285.5,193.4 L286.2,192.1 L287.0,190.8 L287.6,189.5 L288.3,188.1 L288.9,186.8 L289.6,185.5 L290.2,184.1 L290.8,182.8 L291.4,181.4 L292.1,180.1 L292.7,178.7 L293.4,177.4 L294.2,176.0 L295.0,174.6 L295.8,173.3 L296.6,171.9 L297.4,170.5 L298.2,169.1 L299.0,167.7 L299.8,166.3 L300.5,164.9 L301.1,163.5 L301.7,162.1 L302.2,160.6 L302.6,159.1 L302.9,157.7 L303.0,156.2 L303.1,154.8 L303.0,153.5 L302.7,152.2 L302.3,150.9 L301.8,149.8 L301.0,148.7 L300.2,147.7 L299.1,146.8 L298.0,146.0 L296.8,145.3 L295.5,144.7 L294.1,144.1 L292.7,143.7 L291.2,143.3 L289.6,143.0 L288.1,142.7 L286.5,142.5 L284.8,142.4 L283.2,142.3 L281.5,142.2 L279.9,142.1 L278.2,142.1 L276.6,142.0 L275.0,142.0 L273.4,142.0 L271.8,142.0 L270.3,142.1 L268.7,142.3 L267.3,142.5 L265.8,142.9 L264.4,143.3 L263.1,143.8 L261.7,144.3 L260.4,144.9 L259.2,145.6 L257.9,146.4 L256.7,147.2 L255.6,148.0 L254.4,148.9 L253.3,149.9 L252.2,150.9 L251.1,151.9 L250.1,153.0 L249.1,154.1 L248.1,155.2 L247.1,156.4 L246.2,157.5 L245.2,158.7 L244.3,160.0 L243.4,161.2 L242.5,162.4 L241.6,163.7 L240.8,164.9 L239.9,166.2 L239.1,167.5 L238.3,168.8 L237.5,170.0 L236.7,171.3 L235.9,172.6 L235.1,174.0 L234.3,175.3 L233.6,176.6 L232.8,177.9 L232.1,179.2 L231.3,180.6 L230.6,181.9 L229.8,183.2 L229.1,184.6 L228.3,185.9 L227.5,187.3 L226.7,188.6 L225.9,189.9 L225.1,191.3 L224.2,192.6 L223.4,194.0 L222.5,195.3 L221.7,196.7 L220.9,198.0 L220.2,199.3 L219.4,200.7 L218.8,202.0 L218.1,203.3 L217.5,204.7 L216.9,206.0 L216.3,207.3 L215.6,208.6 L215.0,209.9 L214.3,211.2 L213.6,212.5 L212.9,213.8 L212.2,215.1 L211.4,216.3 L210.6,217.6 L209.8,218.8 L208.9,220.1"/></g>
<g stroke="#ff74fb" stroke-width="1.15" mask="url(#mk200)"><path d="M212.6,6.6 L211.7,8.0 L210.9,9.3 L210.1,10.7 L209.4,12.0 L208.6,13.3 L207.9,14.7 L207.2,16.0 L206.5,17.3 L205.8,18.6 L205.2,19.9 L204.5,21.2 L203.9,22.5 L203.2,23.8 L202.6,25.1 L202.0,26.4 L201.3,27.7 L200.7,29.0 L200.0,30.4 L199.4,31.7 L198.7,33.1 L198.1,34.5 L197.4,35.9 L196.7,37.3 L196.0,38.7 L195.3,40.2 L194.6,41.6 L193.9,43.1 L193.3,44.6 L192.7,46.1 L192.1,47.6 L191.6,49.1 L191.1,50.6 L190.7,52.1 L190.4,53.6 L190.1,55.1 L189.9,56.5 L189.8,58.0 L189.9,59.5 L190.0,60.9 L190.2,62.3 L190.6,63.6 L191.1,65.0 L191.7,66.2 L192.4,67.4 L193.2,68.5 L194.2,69.6 L195.3,70.5 L196.5,71.4 L197.8,72.2 L199.1,72.9 L200.5,73.5 L202.0,74.0 L203.5,74.5 L205.0,74.8 L206.5,75.0 L208.0,75.1 L209.5,75.1 L211.0,75.0 L212.4,74.8 L213.8,74.4 L215.2,74.0 L216.6,73.5 L217.9,73.0 L219.2,72.3 L220.5,71.6 L221.7,70.8 L223.0,69.9 L224.2,69.0 L225.3,68.0 L226.5,67.0 L227.6,65.9 L228.7,64.8 L229.7,63.6 L230.8,62.4 L231.8,61.2 L232.8,60.0 L233.7,58.7 L234.6,57.5 L235.5,56.2 L236.4,55.0 L237.3,53.7 L238.1,52.4 L238.9,51.1 L239.7,49.8 L240.5,48.5 L241.3,47.2 L242.0,45.9 L242.8,44.6 L243.5,43.3 L244.2,42.0 L244.9,40.7 L245.6,39.4 L246.3,38.1 L247.0,36.7 L247.6,35.4 L248.3,34.1 L249.0,32.8 L249.7,31.4 L250.3,30.1 L251.0,28.8 L251.7,27.5 L252.4,26.2 L253.1,24.8 L253.8,23.5 L254.5,22.2 L255.2,20.9 L256.0,19.6 L256.7,18.3 L257.5,17.0 L258.3,15.6 L259.1,14.4 L259.9,13.1 L260.8,11.8 L261.7,10.5 L262.5,9.2 L263.5,7.9 L264.4,6.7"/><path d="M264.5,220.2 L265.4,218.8 L266.1,217.5 L266.9,216.1 L267.6,214.8 L268.3,213.5 L268.9,212.1 L269.6,210.8 L270.2,209.5 L270.9,208.2 L271.5,206.9 L272.2,205.6 L272.9,204.3 L273.5,203.0 L274.2,201.7 L274.9,200.4 L275.6,199.1 L276.3,197.8 L277.0,196.4 L277.7,195.1 L278.4,193.7 L279.1,192.3 L279.8,190.9 L280.5,189.5 L281.2,188.1 L281.9,186.6 L282.6,185.2 L283.3,183.7 L283.9,182.2 L284.5,180.7 L285.1,179.2 L285.6,177.7 L286.1,176.2 L286.5,174.7 L286.8,173.2 L287.1,171.7 L287.3,170.3 L287.4,168.8 L287.3,167.3 L287.2,165.9 L287.0,164.5 L286.6,163.2 L286.1,161.8 L285.5,160.6 L284.8,159.4 L284.0,158.3 L283.0,157.2 L281.9,156.3 L280.7,155.4 L279.4,154.6 L278.1,153.9 L276.7,153.3 L275.2,152.8 L273.7,152.3 L272.2,152.0 L270.7,151.8 L269.2,151.7 L267.7,151.7 L266.2,151.8 L264.8,152.0 L263.4,152.4 L262.0,152.8 L260.6,153.3 L259.3,153.8 L258.0,154.5 L256.7,155.2 L255.5,156.0 L254.2,156.9 L253.0,157.8 L251.9,158.8 L250.7,159.8 L249.6,160.9 L248.5,162.0 L247.5,163.2 L246.4,164.4 L245.4,165.6 L244.4,166.8 L243.5,168.1 L242.6,169.3 L241.7,170.6 L240.8,171.8 L239.9,173.1 L239.1,174.4 L238.3,175.7 L237.5,177.0 L236.7,178.3 L235.9,179.6 L235.2,180.9 L234.4,182.2 L233.6,183.5 L232.9,184.8 L232.1,186.1 L231.4,187.4 L230.6,188.7 L229.8,190.1 L229.0,191.4 L228.2,192.7 L227.4,194.0 L226.6,195.4 L225.8,196.7 L225.0,198.0 L224.3,199.3 L223.6,200.6 L223.0,202.0 L222.3,203.3 L221.7,204.6 L221.1,205.9 L220.5,207.2 L219.9,208.5 L219.2,209.8 L218.6,211.2 L217.8,212.4 L217.1,213.7 L216.3,215.0 L215.5,216.3 L214.6,217.6 L213.7,218.9 L212.8,220.1"/></g>
<g stroke="#8222ff" stroke-width="1.3"><path d="M216.5,6.6 L215.6,8.0 L214.8,9.4 L214.0,10.7 L213.3,12.1 L212.6,13.4 L211.9,14.7 L211.2,16.1 L210.6,17.4 L210.0,18.7 L209.4,20.0 L208.7,21.3 L208.1,22.6 L207.5,23.9 L206.9,25.3 L206.3,26.6 L205.7,28.0 L205.1,29.4 L204.4,30.8 L203.8,32.2 L203.1,33.6 L202.5,35.1 L201.9,36.6 L201.3,38.0 L200.8,39.5 L200.3,41.0 L199.8,42.5 L199.4,44.1 L199.1,45.6 L198.8,47.1 L198.7,48.6 L198.6,50.2 L198.6,51.7 L198.7,53.3 L198.9,54.8 L199.2,56.2 L199.7,57.7 L200.2,59.0 L200.9,60.3 L201.7,61.5 L202.6,62.5 L203.6,63.5 L204.7,64.3 L206.0,64.9 L207.3,65.5 L208.7,65.9 L210.2,66.2 L211.7,66.3 L213.2,66.3 L214.7,66.2 L216.2,66.0 L217.7,65.7 L219.1,65.2 L220.4,64.7 L221.7,64.0 L222.9,63.3 L224.1,62.4 L225.2,61.5 L226.3,60.5 L227.4,59.4 L228.4,58.3 L229.4,57.1 L230.4,55.9 L231.3,54.7 L232.2,53.4 L233.1,52.0 L234.0,50.7 L234.8,49.4 L235.6,48.0 L236.5,46.7 L237.3,45.3 L238.1,44.0 L238.9,42.7 L239.7,41.4 L240.5,40.1 L241.3,38.8 L242.1,37.5 L242.8,36.3 L243.6,35.0 L244.4,33.8 L245.2,32.5 L245.9,31.3 L246.7,30.1 L247.5,28.8 L248.3,27.6 L249.0,26.3 L249.8,25.1 L250.6,23.8 L251.3,22.6 L252.1,21.3 L252.9,20.0 L253.6,18.8 L254.4,17.5 L255.2,16.1 L255.9,14.8 L256.7,13.5 L257.5,12.1 L258.3,10.8 L259.1,9.4 L259.9,8.0 L260.6,6.5"/><path d="M260.7,220.2 L261.5,218.8 L262.2,217.4 L262.9,216.1 L263.6,214.7 L264.3,213.4 L264.9,212.1 L265.5,210.7 L266.1,209.4 L266.7,208.1 L267.3,206.8 L268.0,205.5 L268.6,204.2 L269.2,202.9 L269.9,201.5 L270.6,200.2 L271.2,198.8 L271.9,197.4 L272.6,196.0 L273.3,194.6 L274.0,193.2 L274.6,191.7 L275.3,190.2 L275.9,188.8 L276.4,187.3 L276.9,185.8 L277.4,184.3 L277.8,182.7 L278.1,181.2 L278.4,179.7 L278.5,178.2 L278.6,176.6 L278.6,175.1 L278.5,173.5 L278.3,172.0 L278.0,170.6 L277.5,169.1 L277.0,167.8 L276.3,166.5 L275.5,165.3 L274.6,164.3 L273.6,163.3 L272.5,162.5 L271.2,161.9 L269.9,161.3 L268.5,160.9 L267.0,160.6 L265.5,160.5 L264.0,160.5 L262.5,160.6 L261.0,160.8 L259.5,161.1 L258.1,161.6 L256.8,162.1 L255.5,162.8 L254.3,163.5 L253.1,164.4 L252.0,165.3 L250.9,166.3 L249.8,167.4 L248.8,168.5 L247.8,169.7 L246.8,170.9 L245.9,172.1 L245.0,173.4 L244.1,174.8 L243.2,176.1 L242.4,177.4 L241.5,178.8 L240.7,180.1 L239.9,181.5 L239.1,182.8 L238.2,184.1 L237.4,185.4 L236.5,186.7 L235.6,188.0 L234.8,189.3 L233.9,190.5 L233.0,191.8 L232.1,193.0 L231.2,194.3 L230.3,195.5 L229.4,196.7 L228.6,198.0 L227.8,199.2 L227.0,200.5 L226.2,201.7 L225.5,203.0 L224.9,204.2 L224.2,205.5 L223.6,206.8 L223.0,208.0 L222.3,209.3 L221.7,210.7 L221.0,212.0 L220.3,213.3 L219.6,214.7 L218.8,216.0 L218.1,217.4 L217.3,218.8 L216.5,220.3"/></g>
<g stroke="#ff8a1c" stroke-width="1.2" mask="url(#mk250)"><path d="M219.9,6.6 L219.5,8.0 L219.0,9.4 L218.4,10.8 L217.9,12.2 L217.2,13.5 L216.6,14.9 L215.9,16.3 L215.2,17.7 L214.5,19.0 L213.7,20.4 L213.0,21.8 L212.3,23.2 L211.5,24.6 L210.8,26.0 L210.2,27.4 L209.5,28.9 L208.9,30.3 L208.3,31.7 L207.8,33.2 L207.3,34.7 L206.9,36.2 L206.5,37.7 L206.2,39.2 L206.0,40.8 L205.9,42.3 L205.9,43.9 L205.9,45.5 L206.1,47.1 L206.4,48.6 L206.8,50.1 L207.3,51.5 L208.0,52.8 L208.8,54.0 L209.7,55.0 L210.8,55.9 L212.0,56.5 L213.3,57.0 L214.7,57.3 L216.1,57.5 L217.5,57.4 L218.9,57.2 L220.3,56.9 L221.6,56.4 L222.9,55.8 L224.1,55.0 L225.3,54.1 L226.5,53.2 L227.7,52.1 L228.8,51.0 L229.9,49.8 L231.0,48.5 L232.1,47.2 L233.1,45.9 L234.0,44.5 L235.0,43.1 L235.9,41.8 L236.8,40.4 L237.7,39.0 L238.5,37.7 L239.3,36.4 L240.1,35.1 L240.9,33.8 L241.6,32.6 L242.4,31.3 L243.1,30.1 L243.8,28.8 L244.5,27.6 L245.2,26.4 L245.9,25.1 L246.6,23.9 L247.3,22.7 L248.1,21.4 L248.8,20.2 L249.5,18.9 L250.3,17.6 L251.1,16.3 L251.8,15.0 L252.7,13.6 L253.5,12.3 L254.4,10.9 L255.3,9.5 L256.2,8.0 L257.2,6.5"/><path d="M257.3,220.2 L257.6,218.8 L258.1,217.4 L258.6,216.0 L259.1,214.6 L259.7,213.3 L260.3,211.9 L260.9,210.5 L261.6,209.1 L262.2,207.8 L263.0,206.4 L263.7,205.0 L264.5,203.6 L265.3,202.2 L266.0,200.8 L266.8,199.4 L267.5,197.9 L268.1,196.5 L268.8,195.1 L269.3,193.6 L269.8,192.1 L270.3,190.6 L270.7,189.1 L271.0,187.6 L271.2,186.0 L271.3,184.5 L271.3,182.9 L271.3,181.3 L271.1,179.7 L270.8,178.2 L270.4,176.7 L269.9,175.3 L269.2,174.0 L268.4,172.8 L267.5,171.8 L266.4,170.9 L265.2,170.3 L263.9,169.8 L262.5,169.5 L261.1,169.3 L259.7,169.4 L258.3,169.6 L256.9,169.9 L255.6,170.4 L254.3,171.0 L253.1,171.8 L251.9,172.7 L250.7,173.6 L249.5,174.7 L248.4,175.8 L247.3,177.0 L246.2,178.3 L245.1,179.6 L244.1,180.9 L243.1,182.3 L242.1,183.7 L241.2,185.0 L240.2,186.4 L239.3,187.8 L238.3,189.1 L237.4,190.4 L236.5,191.7 L235.6,193.0 L234.7,194.2 L233.9,195.5 L233.0,196.7 L232.2,198.0 L231.5,199.2 L230.8,200.4 L230.1,201.7 L229.5,202.9 L228.8,204.1 L228.2,205.4 L227.6,206.6 L227.0,207.9 L226.4,209.2 L225.8,210.5 L225.1,211.8 L224.3,213.2 L223.6,214.5 L222.7,215.9 L221.9,217.3 L221.0,218.8 L220.0,220.3"/></g>
<g stroke="#fff400" stroke-width="1.1"><path d="M223.6,6.7 L223.3,7.9 L222.9,9.2 L222.5,10.6 L222.0,11.9 L221.4,13.3 L220.7,14.8 L220.0,16.2 L219.3,17.7 L218.6,19.2 L217.8,20.7 L217.1,22.2 L216.4,23.7 L215.7,25.2 L215.0,26.8 L214.4,28.3 L213.9,29.8 L213.4,31.4 L213.1,32.9 L212.8,34.4 L212.6,35.9 L212.6,37.4 L212.7,38.9 L212.9,40.4 L213.3,41.8 L213.9,43.2 L214.6,44.5 L215.4,45.6 L216.3,46.5 L217.4,47.3 L218.6,47.7 L219.9,47.9 L221.3,47.8 L222.7,47.4 L224.2,46.9 L225.6,46.1 L227.1,45.1 L228.5,44.1 L229.7,42.9 L230.9,41.7 L232.0,40.5 L232.9,39.3 L233.8,38.0 L234.6,36.8 L235.5,35.5 L236.3,34.2 L237.1,32.9 L237.9,31.6 L238.7,30.3 L239.5,29.0 L240.3,27.7 L241.1,26.4 L241.9,25.1 L242.7,23.8 L243.5,22.5 L244.2,21.2 L245.0,19.9 L245.8,18.6 L246.6,17.3 L247.4,15.9 L248.2,14.6 L249.1,13.3 L249.9,11.9 L250.7,10.6 L251.5,9.3 L252.3,7.9 L253.2,6.6"/><path d="M253.6,220.1 L253.8,218.9 L254.1,217.6 L254.6,216.2 L255.0,214.9 L255.6,213.5 L256.2,212.0 L256.8,210.6 L257.5,209.1 L258.2,207.6 L258.9,206.1 L259.6,204.6 L260.4,203.1 L261.1,201.6 L261.9,200.0 L262.5,198.5 L263.1,197.0 L263.6,195.4 L264.0,193.9 L264.3,192.4 L264.5,190.9 L264.6,189.4 L264.5,187.9 L264.2,186.4 L263.9,185.0 L263.3,183.6 L262.6,182.3 L261.8,181.2 L260.9,180.3 L259.8,179.5 L258.6,179.1 L257.3,178.9 L255.9,179.0 L254.5,179.4 L253.0,179.9 L251.5,180.7 L250.1,181.7 L248.7,182.7 L247.4,183.9 L246.2,185.1 L245.1,186.3 L244.0,187.5 L243.1,188.8 L242.1,190.0 L241.2,191.3 L240.3,192.6 L239.3,193.9 L238.4,195.2 L237.5,196.5 L236.6,197.8 L235.7,199.1 L234.9,200.4 L234.2,201.7 L233.4,203.0 L232.7,204.3 L232.1,205.6 L231.4,206.9 L230.7,208.2 L230.1,209.5 L229.4,210.9 L228.7,212.2 L228.0,213.5 L227.2,214.9 L226.4,216.2 L225.6,217.5 L224.8,218.9 L224.0,220.2"/></g>
<g stroke="#00f4fc" stroke-width="1.2" mask="url(#mk300)"><path d="M227.6,6.6 L227.5,7.9 L227.2,9.2 L226.7,10.6 L226.2,12.1 L225.5,13.5 L224.9,15.0 L224.1,16.5 L223.4,18.1 L222.7,19.7 L222.0,21.2 L221.4,22.8 L220.9,24.5 L220.5,26.1 L220.3,27.7 L220.2,29.3 L220.3,30.8 L220.7,32.3 L221.3,33.5 L222.2,34.4 L223.4,34.9 L224.7,35.1 L226.1,35.1 L227.5,34.8 L228.8,34.4 L230.1,33.7 L231.3,32.9 L232.5,32.0 L233.6,30.9 L234.7,29.8 L235.7,28.5 L236.7,27.1 L237.7,25.7 L238.6,24.2 L239.5,22.7 L240.3,21.2 L241.1,19.6 L241.9,18.1 L242.7,16.6 L243.5,15.1 L244.2,13.6 L244.9,12.3 L245.6,11.0 L246.3,9.8 L247.0,8.7 L247.7,7.7 L248.4,6.9"/><path d="M249.6,220.2 L249.7,218.9 L250.0,217.6 L250.4,216.2 L250.9,214.7 L251.4,213.3 L252.1,211.8 L252.7,210.3 L253.4,208.7 L254.0,207.1 L254.7,205.6 L255.3,204.0 L255.8,202.3 L256.2,200.7 L256.5,199.1 L256.7,197.5 L256.6,196.0 L256.3,194.5 L255.7,193.3 L254.8,192.4 L253.6,191.9 L252.2,191.7 L250.7,191.7 L249.3,192.0 L247.9,192.4 L246.5,193.1 L245.2,193.9 L243.9,194.8 L242.6,195.9 L241.5,197.0 L240.4,198.3 L239.3,199.7 L238.4,201.1 L237.5,202.6 L236.7,204.1 L236.0,205.6 L235.4,207.2 L234.7,208.7 L234.1,210.2 L233.4,211.7 L232.8,213.2 L232.1,214.5 L231.5,215.8 L230.8,217.0 L230.1,218.1 L229.5,219.1 L228.8,219.9"/></g>
<g stroke="#fb10f4" stroke-width="1.35"><path d="M234.4,6.6 L233.9,8.1 L233.1,9.6 L232.3,11.0 L231.7,12.5 L231.6,14.1 L232.0,15.8 L232.9,17.2 L234.3,17.2 L235.6,15.9 L236.7,14.4 L237.5,13.1 L238.4,11.8 L239.4,10.6 L240.4,9.3 L241.4,8.0 L242.3,6.6"/><path d="M242.8,220.2 L243.3,218.7 L244.0,217.2 L244.8,215.8 L245.3,214.3 L245.4,212.7 L244.9,211.0 L243.8,209.6 L242.5,209.6 L241.3,210.9 L240.3,212.4 L239.5,213.7 L238.7,215.0 L237.7,216.2 L236.7,217.5 L235.7,218.8 L234.9,220.2"/></g>
</g>
<g>
<text transform="translate(137.40,31.40) scale(1.05,1)" text-anchor="middle" font-size="8.6">-50</text>
<text transform="translate(126.17,52.76) scale(1.05,1)" text-anchor="middle" font-size="8.6">-75</text>
<text transform="translate(153.12,48.25) scale(1.05,1)" text-anchor="middle" font-size="8.6">-100</text>
<text transform="translate(132.49,74.02) scale(1.05,1)" text-anchor="middle" font-size="8.6">-125</text>
<text transform="translate(158.40,68.91) scale(1.05,1)" text-anchor="middle" font-size="8.6">-150</text>
<text transform="translate(185.27,49.33) scale(1.05,1)" text-anchor="middle" font-size="8.6">-175</text>
<text transform="translate(217.25,76.14) scale(1.05,1)" text-anchor="middle" font-size="8.6">-200</text>
<text transform="translate(215.65,19.64) scale(1.05,1)" text-anchor="middle" font-size="8.6">-250</text>
<text transform="translate(221.11,36.12) scale(1.05,1)" text-anchor="middle" font-size="8.6">-300</text>
<text transform="translate(217.06,95.42) scale(1.05,1)" text-anchor="middle" font-size="8.6">-150</text>
<text transform="translate(235.53,93.20) scale(1.05,1)" text-anchor="middle" font-size="8.6">-125</text>
<text transform="translate(259.11,92.39) scale(1.05,1)" text-anchor="middle" font-size="8.6">-75</text>
<text transform="translate(252.21,106.23) scale(1.05,1)" text-anchor="middle" font-size="8.6">-100</text>
<text transform="translate(284.05,76.04) scale(1.05,1)" text-anchor="middle" font-size="8.6">-50</text>
<text transform="translate(224.99,126.33) scale(1.05,1)" text-anchor="middle" font-size="8.6">-100</text>
<text transform="translate(259.81,137.23) scale(1.05,1)" text-anchor="middle" font-size="8.6">-150</text>
<text transform="translate(219.44,141.87) scale(1.05,1)" text-anchor="middle" font-size="8.6">-75</text>
<text transform="translate(193.15,156.52) scale(1.05,1)" text-anchor="middle" font-size="8.6">-50</text>
<text transform="translate(203.23,215.90) scale(1.05,1)" text-anchor="middle" font-size="8.6">-125</text>
<text transform="translate(260.21,156.31) scale(1.05,1)" text-anchor="middle" font-size="8.6">-200</text>
<text transform="translate(291.77,183.55) scale(1.05,1)" text-anchor="middle" font-size="8.6">-175</text>
<text transform="translate(256.07,196.81) scale(1.05,1)" text-anchor="middle" font-size="8.6">-300</text>
<text transform="translate(261.02,213.12) scale(1.05,1)" text-anchor="middle" font-size="8.6">-250</text>
<text transform="translate(311.72,170.93) scale(1.05,1)" text-anchor="middle" font-size="8.6">-150</text>
<text transform="translate(344.71,158.55) scale(1.05,1)" text-anchor="middle" font-size="8.6">-125</text>
<text transform="translate(320.44,187.07) scale(1.05,1)" text-anchor="middle" font-size="8.6">-100</text>
<text transform="translate(346.95,181.95) scale(1.05,1)" text-anchor="middle" font-size="8.6">-75</text>
<text transform="translate(329.44,207.73) scale(1.05,1)" text-anchor="middle" font-size="8.6">-50</text>
<text transform="translate(235.30,17.30) scale(1.0,1)" font-size="10.8">A'</text>
<text transform="translate(123.20,117.70) scale(1.0,1)" font-size="10.3">B</text>
<text transform="translate(237.00,117.40) scale(0.9,1)" font-size="12">C</text>
<text transform="translate(344.70,119.70) scale(1.0,1)" font-size="10.3">B'</text>
<text transform="translate(239.80,214.70) scale(1.0,1)" font-size="10.8">A</text>
</g>
<g>
<path d="M118.6,7.0 H358.85" stroke="#000" stroke-width="1.25" fill="none"/>
<path d="M358.3,7.0 V219.35" stroke="#000" stroke-width="1.1" fill="none"/>
<path d="M118.6,6.4 V219.9" stroke="#000" stroke-width="1.35" fill="none"/>
<path d="M117.925,219.35 H358.90000000000003" stroke="#000" stroke-width="1.1" fill="none"/>
<path d="M118.60,219.35 v4.5 M118.6,219.35 h-4.5 M138.57,219.35 v2.4 M118.6,201.65 h-2.4 M158.55,219.35 v4.5 M118.6,183.96 h-4.5 M178.53,219.35 v2.4 M118.6,166.26 h-2.4 M198.50,219.35 v4.5 M118.6,148.57 h-4.5 M218.48,219.35 v2.4 M118.6,130.87 h-2.4 M238.45,219.35 v4.5 M118.6,113.17 h-4.5 M258.43,219.35 v2.4 M118.6,95.48 h-2.4 M278.40,219.35 v4.5 M118.6,77.78 h-4.5 M298.38,219.35 v2.4 M118.6,60.09 h-2.4 M318.35,219.35 v4.5 M118.6,42.39 h-4.5 M338.33,219.35 v2.4 M118.6,24.70 h-2.4 M358.30,219.35 v4.5 M118.6,7.00 h-4.5" stroke="#000" stroke-width="1.3" fill="none"/>
<text transform="translate(118.60,233.53) scale(1.05,1)" text-anchor="middle" font-size="8.6">0</text>
<text transform="translate(111.6,222.36) scale(1.05,1)" text-anchor="end" font-size="8.6">0</text>
<text transform="translate(158.55,233.53) scale(1.05,1)" text-anchor="middle" font-size="8.6">30</text>
<text transform="translate(111.6,186.93) scale(1.05,1)" text-anchor="end" font-size="8.6">30</text>
<text transform="translate(198.50,233.53) scale(1.05,1)" text-anchor="middle" font-size="8.6">60</text>
<text transform="translate(111.6,151.50) scale(1.05,1)" text-anchor="end" font-size="8.6">60</text>
<text transform="translate(238.45,233.53) scale(1.05,1)" text-anchor="middle" font-size="8.6">90</text>
<text transform="translate(111.6,116.07) scale(1.05,1)" text-anchor="end" font-size="8.6">90</text>
<text transform="translate(278.40,233.53) scale(1.05,1)" text-anchor="middle" font-size="8.6">120</text>
<text transform="translate(111.6,80.64) scale(1.05,1)" text-anchor="end" font-size="8.6">120</text>
<text transform="translate(318.35,233.53) scale(1.05,1)" text-anchor="middle" font-size="8.6">150</text>
<text transform="translate(111.6,45.21) scale(1.05,1)" text-anchor="end" font-size="8.6">150</text>
<text transform="translate(358.30,233.53) scale(1.05,1)" text-anchor="middle" font-size="8.6">180</text>
<text transform="translate(111.6,9.78) scale(1.05,1)" text-anchor="end" font-size="8.6">180</text>
<text x="238.4" y="245.7" text-anchor="middle" font-size="11">θ<tspan font-size="5.5" dy="3.6">1</tspan><tspan dy="-3.6">/degree</tspan></text>
<text transform="translate(93.6,111.2) rotate(-90)" text-anchor="middle" font-size="11">θ<tspan font-size="5.5" dy="3.6">2</tspan><tspan dy="-3.6">/degree</tspan></text>
</g>
</g>

</svg>
</body></html>
